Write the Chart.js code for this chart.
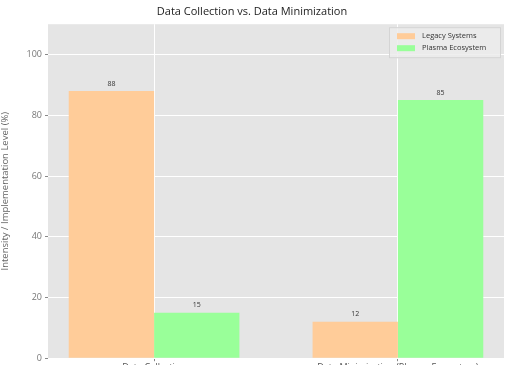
<!DOCTYPE html>
<html>
<head>
<meta charset="utf-8">
<script src="https://cdn.jsdelivr.net/npm/chart.js@4/dist/chart.umd.min.js"></script>
<style>
  html, body { margin: 0; padding: 0; background: #fff; overflow: hidden; }
  #wrap { width: 512px; height: 365px; overflow: hidden; }
</style>
</head>
<body>
<div id="wrap"><canvas id="chart" width="512" height="374"></canvas></div>
<script>
// chart values
var categories = ["Data Collection", "Data Minimization (Plasma Ecosystem)"];
var legacyValues = [88, 12];
var plasmaValues = [15, 85];
var yTicks = [0, 20, 40, 60, 80, 100];

var FONT = "'Open Sans', 'Noto Sans', sans-serif";

// gray panel behind the plot
var panelBg = {
  id: "panelBg",
  beforeDraw: function(chart) {
    var a = chart.chartArea, ctx = chart.ctx;
    ctx.save();
    ctx.fillStyle = "#e5e5e5";
    ctx.fillRect(a.left, a.top, a.right - a.left, a.bottom - a.top);
    ctx.restore();
  }
};

// numbers over the bars
var barValues = {
  id: "barValues",
  afterDatasetsDraw: function(chart) {
    var ctx = chart.ctx;
    ctx.save();
    ctx.font = "7px " + FONT;
    ctx.fillStyle = "#333";
    ctx.textAlign = "center";
    ctx.textBaseline = "bottom";
    chart.data.datasets.forEach(function(ds, i) {
      chart.getDatasetMeta(i).data.forEach(function(bar, j) {
        ctx.fillText(ds.data[j].y, bar.x, bar.y - 4);
      });
    });
    ctx.restore();
  }
};

// legend box in the upper right of the plot
var boxLegend = {
  id: "boxLegend",
  afterDatasetsDraw: function(chart) {
    var a = chart.chartArea, ctx = chart.ctx;
    var x = a.right - 115, y = a.top + 3, w = 112, h = 31;
    ctx.save();
    ctx.fillStyle = "rgba(236,236,236,0.85)";
    ctx.strokeStyle = "#d4d4d4";
    ctx.lineWidth = 1;
    ctx.fillRect(x, y, w, h);
    ctx.strokeRect(x + 0.5, y + 0.5, w - 1, h - 1);
    ctx.font = "7.5px " + FONT;
    ctx.textBaseline = "middle";
    chart.data.datasets.forEach(function(ds, i) {
      var ry = y + 9 + i * 12;
      ctx.fillStyle = ds.backgroundColor;
      ctx.fillRect(x + 8, ry - 3, 18, 6);
      ctx.fillStyle = "#333";
      ctx.fillText(ds.label, x + 33, ry);
    });
    ctx.restore();
  }
};

function points(values) {
  return values.map(function(v, i) { return { x: i, y: v }; });
}

new Chart(document.getElementById("chart"), {
  type: "bar",
  data: {
    datasets: [{
      label: "Legacy Systems",
      data: points(legacyValues),
      backgroundColor: "#ffcc99",
      categoryPercentage: 0.7,
      barPercentage: 1.0
    }, {
      label: "Plasma Ecosystem",
      data: points(plasmaValues),
      backgroundColor: "#99ff99",
      categoryPercentage: 0.7,
      barPercentage: 1.0
    }]
  },
  options: {
    responsive: false,
    animation: false,
    layout: { padding: { left: 0, right: 8, top: 0, bottom: 0 } },
    plugins: {
      legend: { display: false },
      tooltip: { enabled: false },
      title: {
        display: true,
        text: "Data Collection vs. Data Minimization",
        color: "#222",
        font: { family: FONT, size: 11, weight: "normal" },
        padding: { top: 5, bottom: 6 }
      }
    },
    scales: {
      x: {
        type: "linear",
        min: -0.435,
        max: 1.435,
        offset: false,
        afterBuildTicks: function(s) { s.ticks = categories.map(function(c, i) { return { value: i }; }); },
        ticks: {
          color: "#555",
          font: { family: FONT, size: 9 },
          padding: 1,
          maxRotation: 0,
          autoSkip: false,
          callback: function(v) { return categories[v]; }
        },
        grid: { color: "#ffffff", lineWidth: 1, offset: false, tickColor: "#888", tickLength: 3 },
        border: { display: false }
      },
      y: {
        min: 0,
        max: 110,
        afterBuildTicks: function(s) { s.ticks = yTicks.map(function(v) { return { value: v }; }); },
        afterFit: function(s) { s.width = 48; },
        ticks: {
          color: "#777",
          font: { family: FONT, size: 9 },
          padding: 3
        },
        grid: { color: "#ffffff", lineWidth: 1, tickColor: "#888", tickLength: 3 },
        border: { display: false },
        title: {
          display: true,
          text: "Intensity / Implementation Level (%)",
          color: "#666",
          font: { family: FONT, size: 9.5 },
          padding: { top: 0, bottom: 4 }
        }
      }
    }
  },
  plugins: [panelBg, barValues, boxLegend]
});
</script>
</body>
</html>
